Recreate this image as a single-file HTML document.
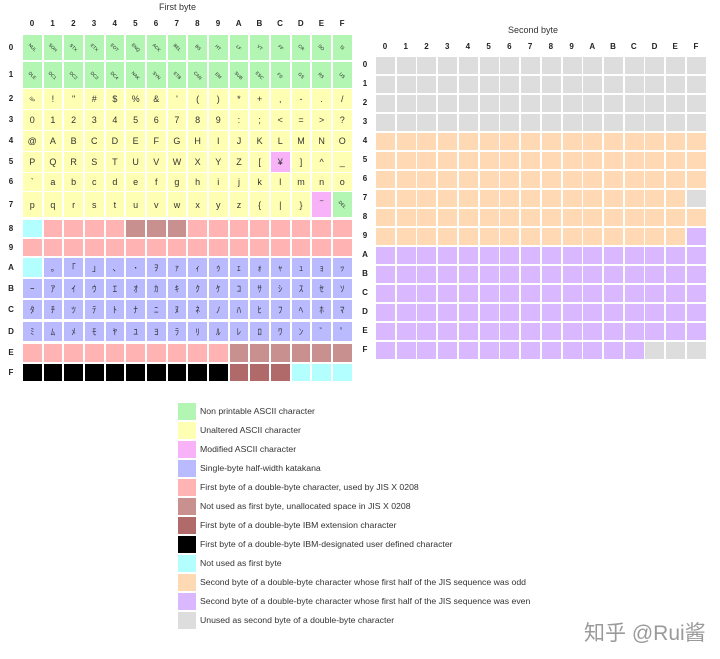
<!DOCTYPE html>
<html><head><meta charset="utf-8"><style>
body{margin:0;background:#fff;width:720px;height:659px;overflow:hidden;position:relative;font-family:"Liberation Sans","Noto Sans CJK JP",sans-serif;}
.c{position:absolute;display:flex;align-items:center;justify-content:center;font-size:9px;color:#333;}
.lab{position:absolute;font-size:8px;font-weight:bold;color:#222;text-align:center;width:14px;}
.ctl{font-size:4.5px;transform:rotate(45deg);letter-spacing:0;color:#222;}
.t{position:absolute;font-size:9px;color:#333;}
.lt{position:absolute;font-size:8.7px;color:#333;}
</style></head><body>
<div class="t" style="left:159px;top:2px">First byte</div>
<div class="t" style="left:508px;top:25px">Second byte</div>
<div id="L"></div>
<div id="R"></div>
<div id="LG"></div>
<div style="position:absolute;left:584px;top:617px;font-size:21px;color:#9a9a9a;font-family:'Liberation Sans','Noto Sans CJK SC',sans-serif">知乎 @Rui酱</div>
<script>
const hex='0123456789ABCDEF'.split('');
const leftTypes=['GGGGGGGGGGGGGGGG','GGGGGGGGGGGGGGGG','YYYYYYYYYYYYYYYY','YYYYYYYYYYYYYYYY','YYYYYYYYYYYYYYYY','YYYYYYYYYYYYPYYY','YYYYYYYYYYYYYYYY','YYYYYYYYYYYYYYPG','CRRRRNNNRRRRRRRR','RRRRRRRRRRRRRRRR','CKKKKKKKKKKKKKKK','KKKKKKKKKKKKKKKK','KKKKKKKKKKKKKKKK','KKKKKKKKKKKKKKKK','RRRRRRRRRRNNNNNN','BBBBBBBBBBIIICCC'];
const rightTypes=['UUUUUUUUUUUUUUUU','UUUUUUUUUUUUUUUU','UUUUUUUUUUUUUUUU','UUUUUUUUUUUUUUUU','OOOOOOOOOOOOOOOO','OOOOOOOOOOOOOOOO','OOOOOOOOOOOOOOOO','OOOOOOOOOOOOOOOU','OOOOOOOOOOOOOOOO','OOOOOOOOOOOOOOOE','EEEEEEEEEEEEEEEE','EEEEEEEEEEEEEEEE','EEEEEEEEEEEEEEEE','EEEEEEEEEEEEEEEE','EEEEEEEEEEEEEEEE','EEEEEEEEEEEEEUUU'];
const ctrl0=['NUL','SOH','STX','ETX','EOT','ENQ','ACK','BEL','BS','HT','LF','VT','FF','CR','SO','SI'];
const ctrl1=['DLE','DC1','DC2','DC3','DC4','NAK','SYN','ETB','CAN','EM','SUB','ESC','FS','GS','RS','US'];
const kana='｡｢｣､･ｦｧｨｩｪｫｬｭｮｯｰｱｲｳｴｵｶｷｸｹｺｻｼｽｾｿﾀﾁﾂﾃﾄﾅﾆﾇﾈﾉﾊﾋﾌﾍﾎﾏﾐﾑﾒﾓﾔﾕﾖﾗﾘﾙﾚﾛﾜﾝﾞﾟ';
const colors={G:'#b3f5b3',Y:'#ffffb3',P:'#f8b3f8',K:'#babaff',R:'#ffb3b3',N:'#c99090',I:'#b06a6a',B:'#000000',C:'#b3ffff',O:'#ffd9b3',E:'#dab8ff',U:'#dddddd'};
const legendKeys=['G','Y','P','K','R','N','I','B','C','O','E','U'];
const legendText=['Non printable ASCII character','Unaltered ASCII character','Modified ASCII character','Single-byte half-width katakana','First byte of a double-byte character, used by JIS X 0208','Not used as first byte, unallocated space in JIS X 0208','First byte of a double-byte IBM extension character','First byte of a double-byte IBM-designated user defined character','Not used as first byte','Second byte of a double-byte character whose first half of the JIS sequence was odd','Second byte of a double-byte character whose first half of the JIS sequence was even','Unused as second byte of a double-byte character'];

const rowTopsL=[35,62,89,110,131,152,173,192,220,239,258,279,300,322,344,364];
const rowBotL=[60,88,109,130,151,172,191,217,237,256,277,298,319,341,362,381];
function glyph(code){
  if(code<16)return {c:ctrl0[code],ctl:1};
  if(code<32)return {c:ctrl1[code-16],ctl:1};
  if(code==32)return {c:'SP',ctl:1};
  if(code==127)return {c:'DEL',ctl:1};
  if(code==0x5C)return {c:'¥'};
  if(code==0x7E)return {c:'‾'};
  if(code<128)return {c:String.fromCharCode(code)};
  if(code>=0xA1&&code<=0xDF)return {c:kana[code-0xA1]};
  return null;
}
const L=document.getElementById('L');
hex.forEach((h,i)=>{
  let d=document.createElement('div');d.className='lab';d.textContent=h;
  d.style.left=(25+i*20.67)+'px';d.style.top='19px';
  
  
  L.appendChild(d);
  let r=document.createElement('div');r.className='lab';r.textContent=h;
  r.style.left='4px';r.style.top=((rowTopsL[i]+rowBotL[i])/2-5)+'px';
  
  
  L.appendChild(r);
});
leftTypes.forEach((row,ri)=>{
  row.split('').forEach((t,ci)=>{
    let d=document.createElement('div');d.className='c';
    d.style.left=(23+ci*20.67)+'px';d.style.top=rowTopsL[ri]+'px';
    d.style.width='18.5px';d.style.height=(rowBotL[ri]-rowTopsL[ri])+'px';
    d.style.background=colors[t];
    const g=glyph(ri*16+ci);
    if(g){let s=document.createElement('span');s.textContent=g.c;if(g.ctl)s.className='ctl';d.appendChild(s);}
    
    
    L.appendChild(d);
  });
});
const R=document.getElementById('R');
hex.forEach((h,i)=>{
  let d=document.createElement('div');d.className='lab';d.textContent=h;
  d.style.left=(378+i*20.73)+'px';d.style.top='42px';
  
  
  R.appendChild(d);
  let r=document.createElement('div');r.className='lab';r.textContent=h;
  r.style.left='358px';r.style.top=(60+i*19)+'px';
  
  
  R.appendChild(r);
});
rightTypes.forEach((row,ri)=>{
  row.split('').forEach((t,ci)=>{
    let d=document.createElement('div');d.className='c';
    d.style.left=(376+ci*20.73)+'px';d.style.top=(57+ri*19)+'px';
    d.style.width='19px';d.style.height='17px';d.style.background=colors[t];
    
    
    R.appendChild(d);
  });
});
const LG=document.getElementById('LG');
legendKeys.forEach((k,i)=>{
  let s=document.createElement('div');
  s.style.cssText='position:absolute;left:178px;width:18px;height:17px;top:'+(403+i*19)+'px;background:'+colors[k];
  
  
  LG.appendChild(s);
  let t=document.createElement('div');t.className='lt';t.textContent=legendText[i];
  t.style.left='200px';t.style.top=(406+i*19)+'px';
  
  
  LG.appendChild(t);
});
</script>
</body></html>
